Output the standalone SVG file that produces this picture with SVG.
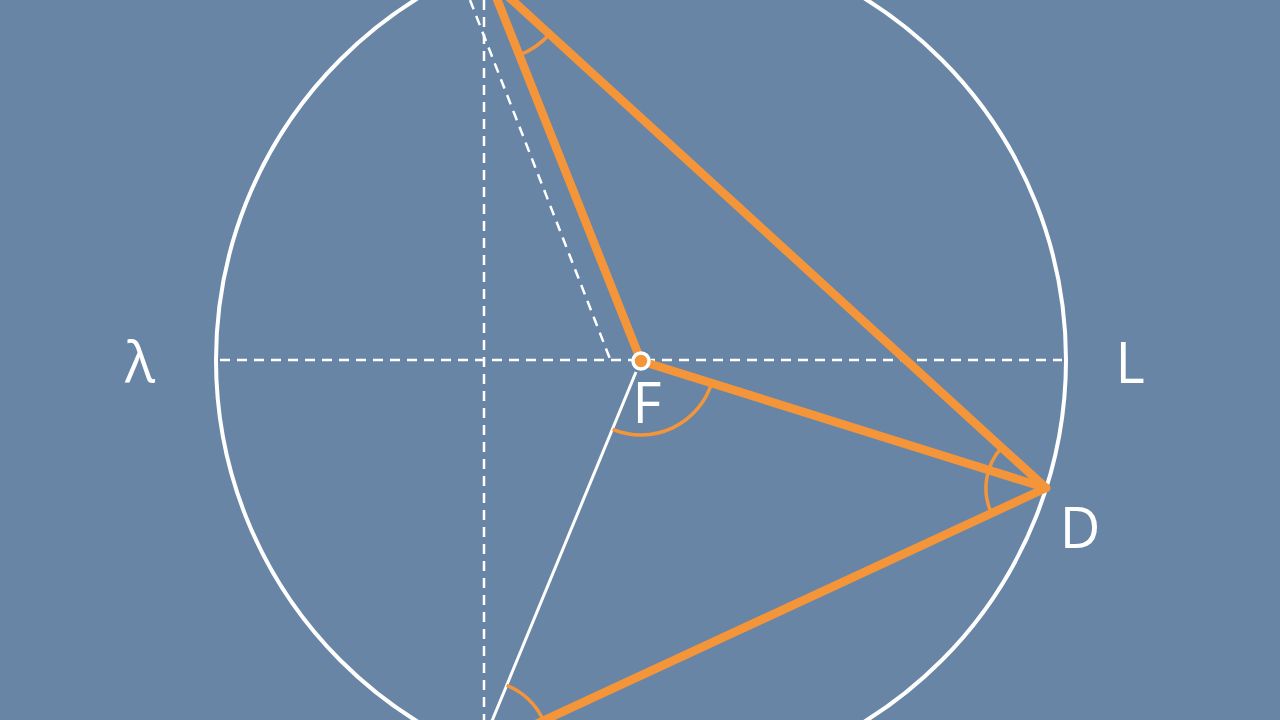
<svg xmlns="http://www.w3.org/2000/svg" width="1280" height="720" viewBox="0 0 1280 720">
<style>
.dash{stroke:#ffffff;stroke-width:2.5;stroke-dasharray:10 7;fill:none}
.edge{stroke:#f5953a;stroke-width:8.5;stroke-linecap:round;fill:none}
.ang{stroke:#f5953a;stroke-width:3.5;fill:none}
.lbl{font-family:"Open Sans","Liberation Sans",sans-serif;font-size:56px;fill:#ffffff;text-anchor:middle}
</style>
<rect width="1280" height="720" fill="#6885a6"/>
<g id="circle">
<circle cx="641" cy="360" r="425" fill="none" stroke="#ffffff" stroke-width="4"/>
</g>
<g id="connectors">
<line class="dash" x1="220" y1="360" x2="1062" y2="360"/>
<line class="dash" x1="484" y1="0" x2="484" y2="720"/>
<line class="dash" x1="470" y1="0" x2="612" y2="364"/>
<line x1="636" y1="372" x2="480" y2="750" stroke="#ffffff" stroke-width="3"/>
<line class="edge" x1="489" y1="-21" x2="641" y2="361"/>
<line class="edge" x1="489" y1="-21" x2="1046" y2="488"/>
<line class="edge" x1="641" y1="361" x2="1046" y2="488"/>
<line class="edge" x1="480" y1="750" x2="1046" y2="488"/>
<path class="ang" d="M711.8,382.4 A74,74 0 0 1 612.7,429.4"/>
<path class="ang" d="M1001.7,447.5 A60,60 0 0 0 991.5,513.2"/>
<path class="ang" d="M519.3,55.2 A82,82 0 0 0 549.5,34.3"/>
<path class="ang" d="M506.7,685.3 A70,70 0 0 1 543.5,720.6"/>
</g>
<g id="node-F">
<circle cx="641" cy="361" r="8" fill="#f5953a" stroke="#ffffff" stroke-width="3.5"/>
<text class="lbl" x="647" y="423">F</text>
</g>
<g id="node-D">
<text class="lbl" x="1080" y="548">D</text>
</g>
<g id="node-L">
<text class="lbl" x="1130" y="383">L</text>
</g>
<g id="node-left">
<text class="lbl" x="140" y="382">λ</text>
</g>
</svg>
